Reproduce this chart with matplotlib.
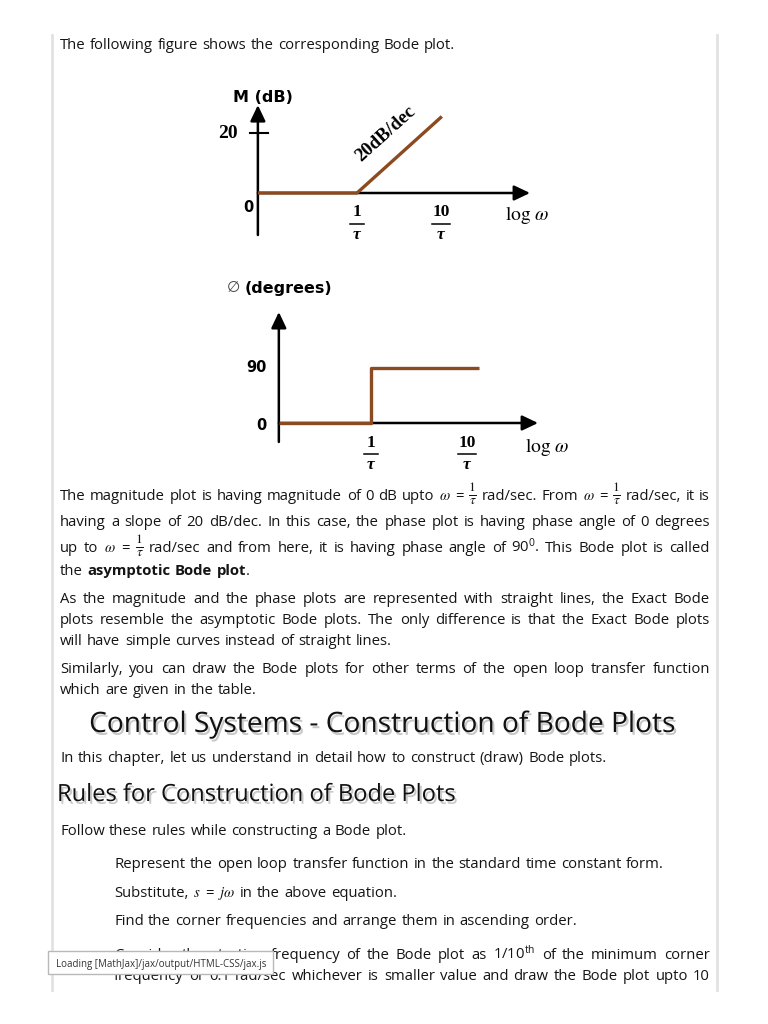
import matplotlib
matplotlib.use("Agg")
import matplotlib.pyplot as plt
import matplotlib.patheffects as pe
from matplotlib.patches import Rectangle
import numpy as np

plt.rcParams['mathtext.fontset'] = 'stix'

# Diagrama de modulo (x em decadas: log10(w*tau))
mag_w = [-1.18, 0.0, 1.01]
mag_db = [0.0, 0.0, 25.5]
mag_marca = 20
mag_rot_val = [20, 0]
mag_rot_txt = ['20', '0']

# Diagrama de fase
fase_w = [-0.96, 0.0, 0.0, 1.12]
fase_graus = [0.0, 0.0, 90.0, 90.0]
fase_rot_val = [90, 0]
fase_rot_txt = ['90', '0']

# Frequencias de canto no eixo x
w_ticks = [0, 1]
w_nums = ['1', '10']

# Textos da pagina
topo = "The following figure shows the corresponding Bode plot."
par1 = [
    r"The magnitude plot is having magnitude of 0 dB upto $\omega$ = $\frac{1}{\tau}$ rad/sec. From $\omega$ = $\frac{1}{\tau}$ rad/sec, it is",
    r"having a slope of 20 dB/dec. In this case, the phase plot is having phase angle of 0 degrees",
    r"up to $\omega$ = $\frac{1}{\tau}$ rad/sec and from here, it is having phase angle of $\mathregular{90^0}$. This Bode plot is called",
    r"the *asymptotic *Bode *plot +.",
]
par2 = [
    "As the magnitude and the phase plots are represented with straight lines, the Exact Bode",
    "plots resemble the asymptotic Bode plots. The only difference is that the Exact Bode plots",
    "will have simple curves instead of straight lines.",
]
par3 = [
    "Similarly, you can draw the Bode plots for other terms of the open loop transfer function",
    "which are given in the table.",
]
titulo1 = "Control Systems - Construction of Bode Plots"
capitulo = "In this chapter, let us understand in detail how to construct (draw) Bode plots."
titulo2 = "Rules for Construction of Bode Plots"
intro = "Follow these rules while constructing a Bode plot."
itens = [
    "Represent the open loop transfer function in the standard time constant form.",
    r"Substitute, $s$ = $j\omega$ in the above equation.",
    "Find the corner frequencies and arrange them in ascending order.",
    r"Consider the starting frequency of the Bode plot as $\mathregular{1/10^{th}}$ of the minimum corner",
    "frequency or 0.1 rad/sec whichever is smaller value and draw the Bode plot upto 10",
]
carregando = "Loading [MathJax]/jax/output/HTML-CSS/jax.js"

W, H = 768, 1024
COR = '#141414'
MARROM = '#8b4a20'
FONTE = 'Open Sans'

fig = plt.figure(figsize=(W / 100, H / 100), dpi=100)
pag = fig.add_axes([0, 0, 1, 1])
pag.set_xlim(0, W)
pag.set_ylim(H, 0)
pag.axis('off')
R = fig.canvas.get_renderer()


def largura(t):
    return t.get_window_extent(R).width


def ajusta(t, alvo):
    t.set_fontsize(t.get_fontsize() * alvo / largura(t))
    return t


# tamanho do texto corrido calibrado pela primeira frase
t = pag.text(0, 0, topo, fontsize=10, family=FONTE)
TAM = 10 * 389 / largura(t)
t.remove()


def linha(texto, x0, y, x1=None, z=2):
    pedacos = []
    for p in texto.split(' '):
        cola = p.startswith('+')
        if cola:
            p = p[1:]
        peso = 'normal'
        if p.startswith('*'):
            p = p[1:]
            peso = 'bold'
        tam = TAM * 1.3 if p.startswith(r'$\frac') else TAM
        t = pag.text(x0, y, p, fontsize=tam, family=FONTE, weight=peso,
                     color=COR, va='baseline', zorder=z)
        pedacos.append((t, largura(t), cola))
    esp = TAM * 100 / 72 * 0.30
    if x1 is not None:
        n = sum(1 for _, _, c in pedacos[1:] if not c)
        esp = (x1 - x0 - sum(w for _, w, _ in pedacos)) / n
    x = x0
    for i, (t, w, c) in enumerate(pedacos):
        if i > 0 and not c:
            x += esp
        t.set_x(x)
        x += w


# bordas da coluna de conteudo
pag.plot([52, 52], [35, 990], color='#e2e2e2', lw=2)
pag.plot([717, 717], [35, 990], color='#e2e2e2', lw=2)

linha(topo, 60, 49)
for txt, y, j in zip(par1, [500, 526, 552, 575], [True, True, True, False]):
    linha(txt, 60, y, 710 if j else None)
for txt, y, j in zip(par2, [603, 624, 645], [True, True, False]):
    linha(txt, 60, y, 710 if j else None)
for txt, y, j in zip(par3, [673, 694], [True, False]):
    linha(txt, 60, y, 710 if j else None)
linha(capitulo, 60, 762)
linha(intro, 60, 835)
for txt, y, j in zip(itens, [868, 897, 925, 959, 980], [False, False, False, True, True]):
    linha(txt, 114, y, 710 if j else None)

sombra = [pe.SimplePatchShadow(offset=(1.5, -2), shadow_rgbFace='#9a9a9a', alpha=0.55), pe.Normal()]
t = pag.text(382.5, 732, titulo1, fontsize=20, family='Open Sans', color='#111',
             ha='center', va='baseline', path_effects=sombra)
ajusta(t, 585)
t = pag.text(57, 801, titulo2, fontsize=16, family='Open Sans', color='#111',
             va='baseline', path_effects=sombra)
ajusta(t, 399)

# caixa "Loading MathJax"
caixa = Rectangle((48, 951), 225, 23, facecolor='white', edgecolor='#b8b8b8', lw=1, zorder=10,
                  path_effects=[pe.SimplePatchShadow(offset=(1, -1), alpha=0.15), pe.Normal()])
pag.add_patch(caixa)
t = pag.text(56, 967, carregando, fontsize=8, family='Open Sans', color='#333', va='baseline', zorder=11)
ajusta(t, 210)


def eixo(esq, topo_, dir_, base, ox, sx, oy, sy):
    ax = fig.add_axes([esq / W, 1 - base / H, (dir_ - esq) / W, (base - topo_) / H])
    ax.set_xlim((esq - ox) / sx, (dir_ - ox) / sx)
    ax.set_ylim((oy - base) / sy, (oy - topo_) / sy)
    ax.axis('off')
    return ax


def px(ax, x, y):
    X, Y = ax.transData.transform((x, y))
    return X, H - Y


def seta(ax, x0, y0, x1, y1):
    ax.annotate('', xy=(x1, y1), xytext=(x0, y0),
                arrowprops=dict(arrowstyle='-|>,head_length=0.8,head_width=0.38', color='k',
                                lw=1.8, shrinkA=0, shrinkB=0, mutation_scale=12))


def fracao(ax, d, num, meia, dn, db, dt):
    X, Y = px(ax, d, 0)
    pag.text(X, Y + dn, num, ha='center', va='center', family='Liberation Serif',
             weight='bold', fontsize=12.5, color='k')
    pag.plot([X - meia, X + meia], [Y + db, Y + db], color='k', lw=1.1)
    pag.text(X, Y + dt, 'τ', ha='center', va='center', family='Liberation Serif',
             weight='bold', style='italic', fontsize=12.5, color='k')


# ---------- modulo ----------
ax1 = eixo(200, 80, 600, 250, 357, 84, 193, 3)
xa = mag_w[0]
seta(ax1, xa, -14, xa, 29.3)
seta(ax1, xa, 0, 2.06, 0)
ax1.plot(mag_w, mag_db, color=MARROM, lw=2.4, solid_capstyle='butt', zorder=3)
X, Y = px(ax1, xa, mag_marca)
pag.plot([X - 8, X + 10], [Y, Y], color='k', lw=1.5)

X0, Y0 = px(ax1, xa, 0)
t = pag.text(X0 - 25, 97, 'M (dB)', family='DejaVu Sans', weight='bold', fontsize=11.5,
             va='center', color='k')
X, Y = px(ax1, xa, mag_rot_val[0])
pag.text(X - 20, Y, mag_rot_txt[0], ha='right', va='center', family='Liberation Serif',
         weight='bold', fontsize=14, color='k')
pag.text(X0 - 10, Y0 + 15, mag_rot_txt[1], ha='center', va='center', family='DejaVu Sans',
         weight='bold', fontsize=10.5, color='k')
for d, n, m in zip(w_ticks, w_nums, [7, 9]):
    fracao(ax1, d, n, m, 19, 31, 42)
Xt, Yt = px(ax1, 2.06, 0)
t = pag.text(Xt - 25, Yt + 22, r'$\log\,\omega$', va='center', fontsize=14, color='k')

# inclinacao 20 dB/dec
(xa_, ya_), (xb_, yb_) = px(ax1, mag_w[1], mag_db[1]), px(ax1, mag_w[2], mag_db[2])
ang = np.degrees(np.arctan2(ya_ - yb_, xb_ - xa_))
t = pag.text((xa_ + xb_) / 2 - 14, (ya_ + yb_) / 2 - 21, '20dB/dec', rotation=ang,
             rotation_mode='anchor', ha='center', va='center', family='Liberation Serif',
             weight='bold', fontsize=13.5, color='k')

# ---------- fase ----------
ax2 = eixo(200, 295, 600, 480, 371, 96, 423, 55 / 90)
xb = fase_w[0]
seta(ax2, xb, -31, xb, 181.6)
seta(ax2, xb, 0, 1.74, 0)
ax2.plot(fase_w, fase_graus, color=MARROM, lw=2.4, solid_capstyle='butt', zorder=3)

X0, Y0 = px(ax2, xb, 0)
t1 = pag.text(X0 - 52, 288, '∅', family='DejaVu Sans', fontsize=11, va='center', color='#444')
t2 = pag.text(X0 - 52 + largura(t1) + 5, 288, '(degrees)', family='DejaVu Sans', weight='bold',
              fontsize=11.5, va='center', color='k')
X, Y = px(ax2, xb, fase_rot_val[0])
pag.text(X - 12, Y, fase_rot_txt[0], ha='right', va='center', family='DejaVu Sans',
         weight='bold', fontsize=10.5, color='k')
pag.text(X0 - 17, Y0 + 3, fase_rot_txt[1], ha='center', va='center', family='DejaVu Sans',
         weight='bold', fontsize=10.5, color='k')
for d, n, m in zip(w_ticks, w_nums, [7, 9]):
    fracao(ax2, d, n, m, 20, 31, 42)
Xt, Yt = px(ax2, 1.74, 0)
pag.text(Xt - 13, Yt + 24, r'$\log\,\omega$', va='center', fontsize=14, color='k')

fig.savefig('out.png', dpi=100)
